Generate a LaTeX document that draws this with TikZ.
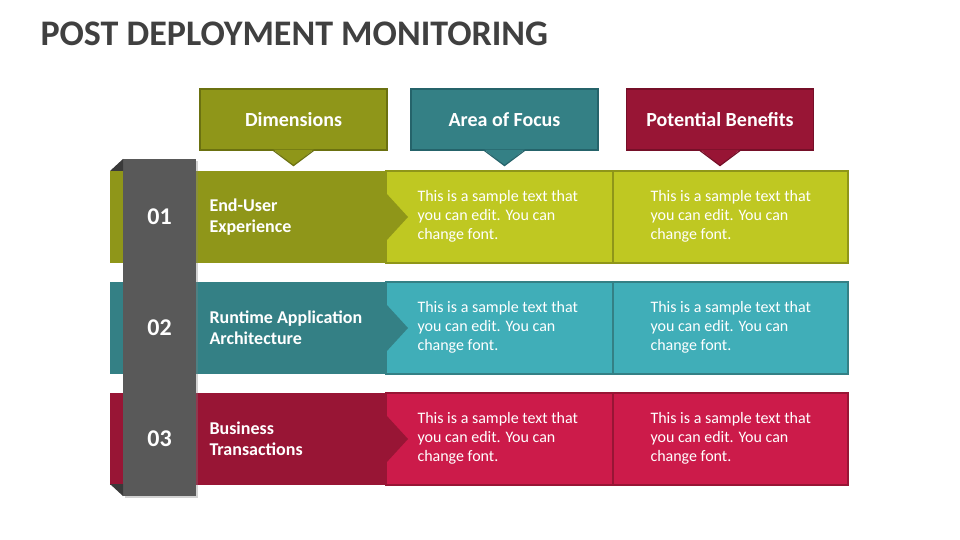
\documentclass[tikz,border=0pt]{standalone}
\usepackage{fontspec}
\setmainfont{Carlito}
\usepackage{tikz}
\usetikzlibrary{positioning,shadows}
\definecolor{oliveD}{HTML}{8F9619}
\definecolor{oliveL}{HTML}{BFC822}
\definecolor{oliveB}{HTML}{6B7110}
\definecolor{tealD}{HTML}{348085}
\definecolor{tealL}{HTML}{40AEB8}
\definecolor{tealB}{HTML}{25636A}
\definecolor{crimD}{HTML}{981535}
\definecolor{crimL}{HTML}{CC1B4A}
\definecolor{crimB}{HTML}{750F28}
\definecolor{barGray}{HTML}{595959}
\definecolor{foldGray}{HTML}{3A3A3A}
\definecolor{titleGray}{HTML}{404040}
\tikzset{
    every picture/.style={line width=1pt},
    head/.style={draw,line width=1.2pt,minimum width=187pt,minimum height=61pt,inner sep=0pt,text=white,font=\fontsize{20}{24}\selectfont\bfseries},
    dimbox/.style={minimum width=276pt,minimum height=92pt,inner sep=0pt,outer sep=0pt},
    cell/.style={draw,line width=1.2pt,minimum height=92pt,inner sep=0pt,outer sep=0pt},
    rowtext/.style={anchor=west,inner sep=0pt,align=left,text=white,font=\fontsize{18}{21}\selectfont\bfseries},
    sample/.style={anchor=west,inner sep=0pt,align=left,text=white,font=\fontsize{16}{19}\selectfont},
    numtxt/.style={inner sep=0pt,text=white,font=\fontsize{24}{26}\selectfont\bfseries},
    bar/.style={fill=barGray,minimum width=73pt,minimum height=337pt,inner sep=0pt,outer sep=0pt,
        drop shadow={shadow xshift=2pt,shadow yshift=-2pt,opacity=0.35}}
}
\begin{document}
\begin{tikzpicture}[x=1pt,y=-1pt]
    \useasboundingbox[fill=white] (0,0) rectangle (960,540);
    \node[anchor=west,inner sep=0pt,text=titleGray,font=\fontsize{36}{40}\selectfont\bfseries] (title) at (40,34) {POST DEPLOYMENT MONITORING};

    \node[head,fill=oliveD,draw=oliveB] (dim) at (293.5,119.5) {Dimensions};
    \node[head,fill=tealD,draw=tealB] (focus) at (504.5,119.5) {Area of Focus};
    \node[head,fill=crimD,draw=crimB] (benefit) at (720,119.5) {Potential Benefits};
    \fill[oliveD] (dim.south) ++(-20,-1) -- ++(20,16) -- ++(20,-16) -- cycle;
    \draw[oliveB,line width=1.2pt] (dim.south) ++(-20,0) -- ++(20,15) -- ++(20,-15);
    \fill[tealD] (focus.south) ++(-20,-1) -- ++(20,16) -- ++(20,-16) -- cycle;
    \draw[tealB,line width=1.2pt] (focus.south) ++(-20,0) -- ++(20,15) -- ++(20,-15);
    \fill[crimD] (benefit.south) ++(-20,-1) -- ++(20,16) -- ++(20,-16) -- cycle;
    \draw[crimB,line width=1.2pt] (benefit.south) ++(-20,0) -- ++(20,15) -- ++(20,-15);

    \node[dimbox,fill=oliveD] (d1) at (248,217) {};
    \node[cell,minimum width=227pt,fill=oliveL,draw=oliveD,right=0pt of d1] (a1) {};
    \node[cell,minimum width=235pt,fill=oliveL,draw=oliveD,right=0pt of a1] (b1) {};
    \fill[oliveD] (d1.east) ++(0,-24) -- ++(22,24) -- ++(-22,24) -- cycle;

    \node[dimbox,fill=tealD] (d2) at (248,328) {};
    \node[cell,minimum width=227pt,fill=tealL,draw=tealD,right=0pt of d2] (a2) {};
    \node[cell,minimum width=235pt,fill=tealL,draw=tealD,right=0pt of a2] (b2) {};
    \fill[tealD] (d2.east) ++(0,-24) -- ++(22,24) -- ++(-22,24) -- cycle;

    \node[dimbox,fill=crimD] (d3) at (248,439) {};
    \node[cell,minimum width=227pt,fill=crimL,draw=crimD,right=0pt of d3] (a3) {};
    \node[cell,minimum width=235pt,fill=crimL,draw=crimD,right=0pt of a3] (b3) {};
    \fill[crimD] (d3.east) ++(0,-24) -- ++(22,24) -- ++(-22,24) -- cycle;

    \node[bar] (bar) at (159.5,327.5) {};
    \fill[foldGray] (bar.north west) -- ++(0,12) -- ++(-13,0) -- cycle;
    \fill[foldGray] (bar.south west) -- ++(0,-12) -- ++(-13,0) -- cycle;
    \node[numtxt] (n1) at (bar |- d1) {01};
    \node[numtxt] (n2) at (bar |- d2) {02};
    \node[numtxt] (n3) at (bar |- d3) {03};

    \node[rowtext] (t1) at (209,217) {End-User\\Experience};
    \node[rowtext] (t2) at (209,328) {Runtime Application\\Architecture};
    \node[rowtext] (t3) at (209,439) {Business\\Transactions};

    \node[sample] (s1a) at (417,216) {This is a sample text that\\you can edit. You can\\change font.};
    \node[sample] (s1b) at (650,216) {This is a sample text that\\you can edit. You can\\change font.};
    \node[sample] (s2a) at (417,327) {This is a sample text that\\you can edit. You can\\change font.};
    \node[sample] (s2b) at (650,327) {This is a sample text that\\you can edit. You can\\change font.};
    \node[sample] (s3a) at (417,438) {This is a sample text that\\you can edit. You can\\change font.};
    \node[sample] (s3b) at (650,438) {This is a sample text that\\you can edit. You can\\change font.};
\end{tikzpicture}
\end{document}
